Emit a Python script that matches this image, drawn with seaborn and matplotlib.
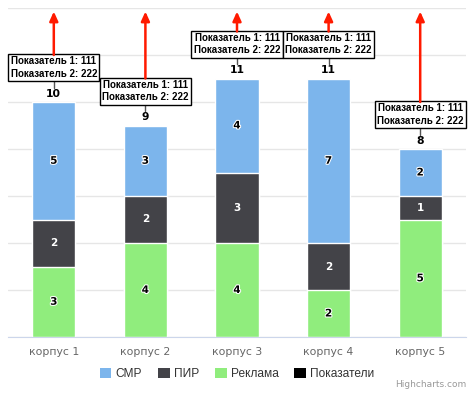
import numpy as np
import pandas as pd
import matplotlib.pyplot as plt
import matplotlib.patheffects as pe
from matplotlib.patches import Patch
import seaborn as sns

categories = ['корпус 1', 'корпус 2', 'корпус 3', 'корпус 4', 'корпус 5']
smr = [5, 3, 4, 7, 2]
pir = [2, 2, 3, 2, 1]
reklama = [3, 4, 4, 2, 5]
box_text = 'Показатель 1: 111\nПоказатель 2: 222'

df = pd.DataFrame({'cat': categories, 'СМР': smr, 'ПИР': pir, 'Реклама': reklama})
df['low'] = df['Реклама']
df['mid'] = df['Реклама'] + df['ПИР']
df['total'] = df['mid'] + df['СМР']

colors = {'СМР': '#7cb5ec', 'ПИР': '#434348', 'Реклама': '#90ed7d', 'Показатели': '#000000'}

sns.set_style('white')
plt.rcParams['font.family'] = ['DejaVu Sans']

fig = plt.figure(figsize=(4.74, 3.95), dpi=100)
ax = fig.add_axes([8 / 474, 58 / 395, 458 / 474, 329 / 395])

# stacked bars by overlaying cumulative heights
for col, name in [('total', 'СМР'), ('mid', 'ПИР'), ('low', 'Реклама')]:
    sns.barplot(data=df, x='cat', y=col, color=colors[name], width=0.47,
                errorbar=None, edgecolor='white', linewidth=1, saturation=1, ax=ax, zorder=3)

ax.set_xlim(-0.5, 4.5)
ax.set_ylim(0, 14)
ax.set_xlabel('')
ax.set_ylabel('')
ax.set_yticks(np.arange(0, 15, 2))
ax.set_yticklabels([])
ax.tick_params(axis='y', length=0)
ax.grid(axis='y', color='#e6e6e6', linewidth=1, zorder=0)
ax.set_axisbelow(True)
for s in ['top', 'right', 'left']:
    ax.spines[s].set_visible(False)
ax.spines['bottom'].set_color('#ccd6eb')
ax.spines['bottom'].set_zorder(4)

ax.set_xticks(range(len(categories)))
ax.set_xticklabels(categories, fontsize=7.8, color='#666666')
ax.tick_params(axis='x', which='major', length=0, pad=7)
ax.set_xticks(np.arange(-0.5, 5, 1), minor=True)
ax.tick_params(axis='x', which='minor', length=10, color='#ccd6eb', width=1)

halo = [pe.withStroke(linewidth=1.5, foreground='white')]
for i, row in df.iterrows():
    segs = [(0, row['Реклама'], 'black', halo),
            (row['low'], row['ПИР'], 'white', None),
            (row['mid'], row['СМР'], 'black', halo)]
    for base, h, c, eff in segs:
        ax.text(i, base + h / 2, str(h), ha='center', va='center', fontsize=7.5,
                fontweight='bold', color=c, path_effects=eff, zorder=5)
    t = row['total']
    ax.text(i, t + 0.35, str(t), ha='center', va='center', fontsize=7.8,
            fontweight='bold', color='black', zorder=5)
    # connector from label to box
    ax.plot([i, i], [t + 0.6, t + 0.93], color='#555555', linewidth=1, zorder=4)
    ax.text(i, t + 1.46, box_text, ha='center', va='center', fontsize=7.0,
            family='Liberation Sans', fontweight='bold', color='black',
            linespacing=1.3, zorder=6,
            bbox=dict(boxstyle='square,pad=0.25', facecolor='white', edgecolor='black', linewidth=1))
    ax.annotate('', xy=(i, 13.85), xytext=(i, t + 2.0),
                arrowprops=dict(arrowstyle='-|>,head_width=0.25,head_length=0.55',
                                color='#ff1a00', linewidth=1.8, shrinkA=0, shrinkB=0),
                zorder=6, annotation_clip=False)

handles = [Patch(facecolor=colors[k], edgecolor='none', label=k) for k in colors]
fig.legend(handles=handles, loc='center', bbox_to_anchor=(0.5, 21 / 395), ncol=4,
           frameon=False, handlelength=1.0, handleheight=0.9, handletextpad=0.35,
           columnspacing=1.3, prop={'size': 8.6, 'family': 'Liberation Sans'},
           labelcolor='#333333')

fig.text(466 / 474, 6 / 395, 'Highcharts.com', ha='right', va='bottom', fontsize=6.5, color='#999999')

fig.savefig('out.png', dpi=100)
